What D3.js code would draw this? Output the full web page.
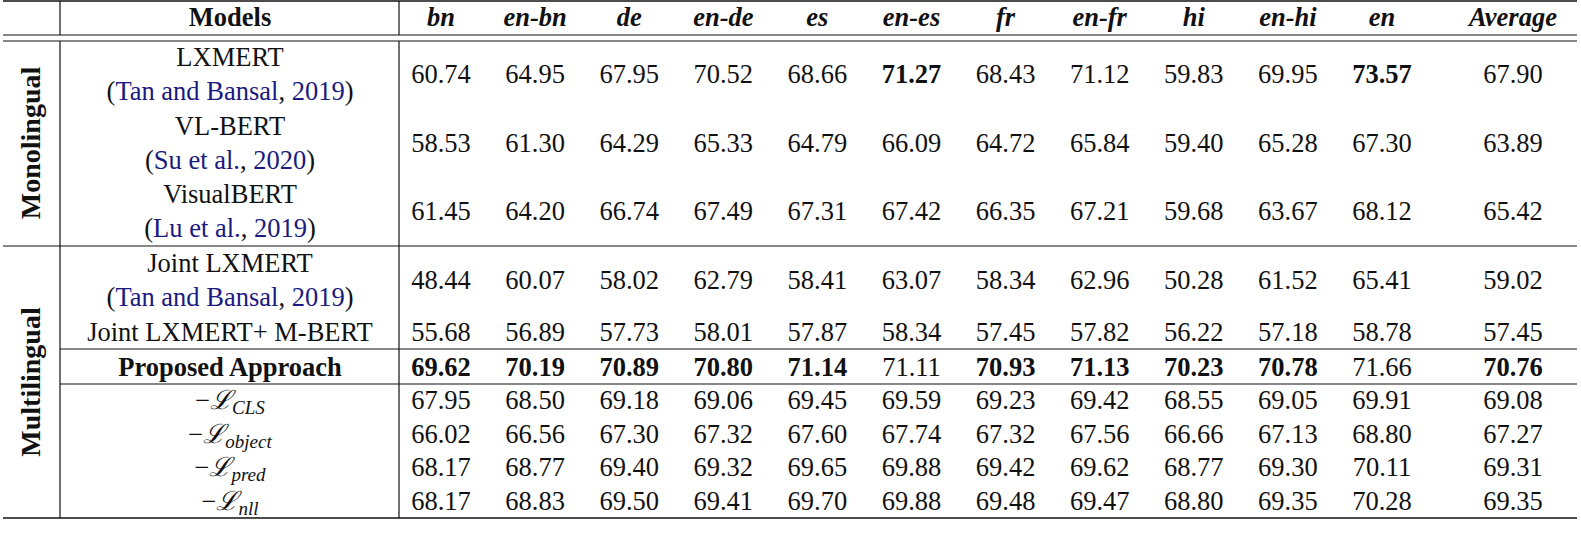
<!DOCTYPE html>
<html>
<head>
<meta charset="utf-8">
<script src="https://cdn.jsdelivr.net/npm/d3@7"></script>
<style>
  body { margin: 0; background: #fff; }
  svg text { font-family: 'Liberation Serif', 'DejaVu Serif', serif; fill: #111; }
</style>
</head>
<body>
<svg id="chart" width="1581" height="543" font-family="Liberation Serif, serif"></svg>
<script>
var columns = ["bn", "en-bn", "de", "en-de", "es", "en-es", "fr", "en-fr", "hi", "en-hi", "en"];
var modelNames = ["LXMERT", "VL-BERT", "VisualBERT", "Joint LXMERT", "Joint LXMERT+ M-BERT",
    "Proposed Approach", "CLS", "object", "pred", "nll"];
var citations = ["Tan and Bansal, 2019", "Su et al., 2020", "Lu et al., 2019", "Tan and Bansal, 2019",
    null, null, null, null, null, null];
var scores = [
    [60.74, 64.95, 67.95, 70.52, 68.66, 71.27, 68.43, 71.12, 59.83, 69.95, 73.57],
    [58.53, 61.30, 64.29, 65.33, 64.79, 66.09, 64.72, 65.84, 59.40, 65.28, 67.30],
    [61.45, 64.20, 66.74, 67.49, 67.31, 67.42, 66.35, 67.21, 59.68, 63.67, 68.12],
    [48.44, 60.07, 58.02, 62.79, 58.41, 63.07, 58.34, 62.96, 50.28, 61.52, 65.41],
    [55.68, 56.89, 57.73, 58.01, 57.87, 58.34, 57.45, 57.82, 56.22, 57.18, 58.78],
    [69.62, 70.19, 70.89, 70.80, 71.14, 71.11, 70.93, 71.13, 70.23, 70.78, 71.66],
    [67.95, 68.50, 69.18, 69.06, 69.45, 69.59, 69.23, 69.42, 68.55, 69.05, 69.91],
    [66.02, 66.56, 67.30, 67.32, 67.60, 67.74, 67.32, 67.56, 66.66, 67.13, 68.80],
    [68.17, 68.77, 69.40, 69.32, 69.65, 69.88, 69.42, 69.62, 68.77, 69.30, 70.11],
    [68.17, 68.83, 69.50, 69.41, 69.70, 69.88, 69.48, 69.47, 68.80, 69.35, 70.28]
];
var averages = [67.90, 63.89, 65.42, 59.02, 57.45, 70.76, 69.08, 67.27, 69.31, 69.35];
// cells printed in bold: [row, column]; column 11 = Average
var boldCells = [[0, 5], [0, 10], [5, 0], [5, 1], [5, 2], [5, 3], [5, 4], [5, 6], [5, 7], [5, 8], [5, 9], [5, 11]];
var groups = ["Monolingual", "Multilingual"];

var svg = d3.select("#chart");
var FS = 26.5;
var x = d3.scalePoint().domain(columns).range([441, 1382]);
var xAvg = 1513, xModel = 230;
// row centre positions
var rowY = d3.scaleOrdinal().domain(d3.range(10)).range([74, 143, 211, 280, 332, 367, 400, 434, 467, 501]);

function isBold(r, c) {
    return boldCells.some(function(b) { return b[0] == r && b[1] == c; });
}

// rules
var rules = [[3, 1577, 1, 1.5], [3, 1577, 35, 1.2], [3, 1577, 41, 1.2], [3, 1577, 246, 1.2],
    [60, 1577, 349, 1.2], [60, 1577, 384, 1.2], [3, 1577, 518, 1.5]];
svg.selectAll("line.h").data(rules).enter().append("line")
    .attr("x1", d => d[0]).attr("x2", d => d[1]).attr("y1", d => d[2]).attr("y2", d => d[2])
    .attr("stroke", "#111").attr("stroke-width", d => d[3]);
svg.selectAll("line.v").data([[60, 1, 35], [60, 41, 518], [399, 1, 35], [399, 41, 518]]).enter().append("line")
    .attr("x1", d => d[0]).attr("x2", d => d[0]).attr("y1", d => d[1]).attr("y2", d => d[2])
    .attr("stroke", "#111").attr("stroke-width", 1.2);

// header
svg.append("text").attr("x", xModel).attr("y", 26).attr("text-anchor", "middle")
    .attr("font-size", FS).attr("font-weight", "bold").text("Models");
svg.selectAll("text.head").data(columns.concat(["Average"])).enter().append("text")
    .attr("x", d => d == "Average" ? xAvg : x(d)).attr("y", 26).attr("text-anchor", "middle")
    .attr("font-size", FS).attr("font-weight", "bold").attr("font-style", "italic").text(d => d);

// group labels
svg.selectAll("text.group").data(groups).enter().append("text")
    .attr("transform", (d, i) => "translate(40," + (i == 0 ? 143 : 382) + ") rotate(-90)")
    .attr("text-anchor", "middle").attr("font-size", 28).attr("font-weight", "bold").text(d => d);

// model names
modelNames.forEach(function(name, r) {
    var y = rowY(r);
    if (citations[r]) {
        svg.append("text").attr("x", xModel).attr("y", y - 8).attr("text-anchor", "middle")
            .attr("font-size", FS).text(name);
        var t = svg.append("text").attr("x", xModel).attr("y", y + 26).attr("text-anchor", "middle")
            .attr("font-size", FS);
        var parts = citations[r].split(", ");
        t.append("tspan").text("(");
        t.append("tspan").style("fill", "#1a1a80").text(parts[0]);
        t.append("tspan").text(", ");
        t.append("tspan").style("fill", "#1a1a80").text(parts[1]);
        t.append("tspan").text(")");
    } else if (r >= 6) {
        var t = svg.append("text").attr("x", xModel).attr("y", y + 9).attr("text-anchor", "middle")
            .attr("font-size", FS);
        t.append("tspan").text("\u2212");
        t.append("tspan").attr("font-style", "italic").text("\u2112");
        t.append("tspan").attr("font-style", "italic").attr("font-size", 19).attr("dy", 5).text(name);
    } else {
        svg.append("text").attr("x", xModel).attr("y", y + 9).attr("text-anchor", "middle")
            .attr("font-size", FS).attr("font-weight", r == 5 ? "bold" : "normal").text(name);
    }
});

// values
scores.forEach(function(row, r) {
    var vals = row.concat([averages[r]]);
    svg.selectAll("text.v" + r).data(vals).enter().append("text")
        .attr("x", (d, c) => c == 11 ? xAvg : x(columns[c]))
        .attr("y", rowY(r) + 9).attr("text-anchor", "middle").attr("font-size", FS)
        .attr("font-weight", (d, c) => isBold(r, c) ? "bold" : "normal")
        .text(d => d.toFixed(2));
});
</script>
</body>
</html>
